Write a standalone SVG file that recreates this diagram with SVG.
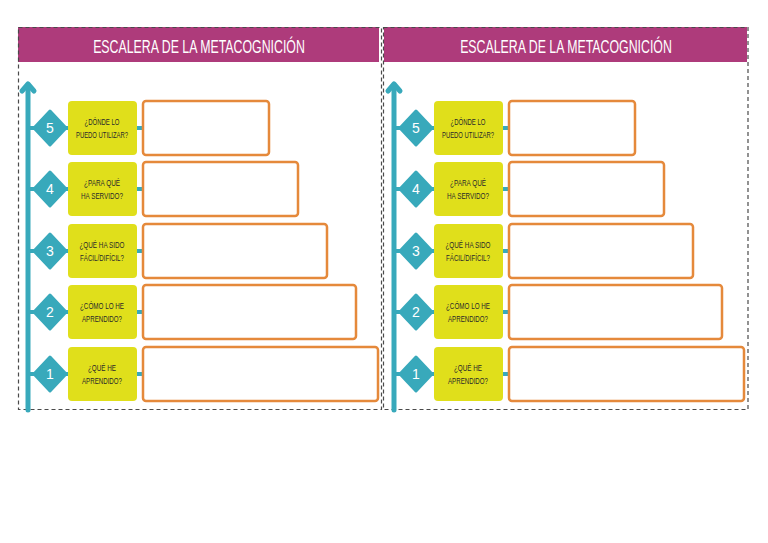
<svg xmlns="http://www.w3.org/2000/svg" width="768" height="543" viewBox="0 0 768 543">
<defs>
<style>
.bg{fill:#ffffff}
.frame{fill:none;stroke:#4a4a4a;stroke-width:1.2;stroke-dasharray:4 3}
.head{fill:#AE3B7B}
.title{font-family:"Liberation Sans",Arial,sans-serif;font-size:19px;fill:#ffffff;text-anchor:middle}
.axis{stroke:#38A9BB;stroke-width:5;fill:none;stroke-linecap:round;stroke-linejoin:round}
.conn{stroke:#38A9BB;stroke-width:4;fill:none}
.dia{fill:#38A9BB;stroke:#38A9BB;stroke-width:3;stroke-linejoin:round}
.num{font-family:"Liberation Sans",Arial,sans-serif;font-size:14px;fill:#ffffff;text-anchor:middle}
.q{fill:#E0DF1B}
.qt{font-family:"Liberation Sans",Arial,sans-serif;font-size:9.5px;fill:#2a2a2a;text-anchor:middle}
.ans{fill:#ffffff;stroke:#E5893B;stroke-width:2.5}
</style>
</defs>
<rect class="bg" x="0" y="0" width="768" height="543"/>

<g id="panel-left">
<rect class="head" x="18" y="27" width="361" height="35"/>
<text class="title" transform="translate(199,53) scale(0.65,1)" x="0" y="0">ESCALERA DE LA METACOGNICIÓN</text>
<rect class="frame" x="18.5" y="27.5" width="363" height="382"/>
</g>
<g id="panel-right">
<rect class="head" x="384" y="27" width="363" height="35"/>
<text class="title" transform="translate(566,53) scale(0.65,1)" x="0" y="0">ESCALERA DE LA METACOGNICIÓN</text>
<rect class="frame" x="383.5" y="27.5" width="364.5" height="382"/>
</g>

<g id="connectors">
<line class="axis" x1="28" y1="85" x2="28" y2="410"/>
<polyline class="axis" points="22,91 28,84 34,91"/>
<line class="conn" x1="28" y1="128" x2="68" y2="128"/>
<line class="conn" x1="28" y1="189" x2="68" y2="189"/>
<line class="conn" x1="28" y1="251" x2="68" y2="251"/>
<line class="conn" x1="28" y1="312" x2="68" y2="312"/>
<line class="conn" x1="28" y1="374" x2="68" y2="374"/>
<line class="conn" x1="137" y1="128" x2="143" y2="128"/>
<line class="conn" x1="137" y1="189" x2="143" y2="189"/>
<line class="conn" x1="137" y1="251" x2="143" y2="251"/>
<line class="conn" x1="137" y1="312" x2="143" y2="312"/>
<line class="conn" x1="137" y1="374" x2="143" y2="374"/>

<line class="axis" x1="394" y1="85" x2="394" y2="410"/>
<polyline class="axis" points="388,91 394,84 400,91"/>
<line class="conn" x1="394" y1="128" x2="434" y2="128"/>
<line class="conn" x1="394" y1="189" x2="434" y2="189"/>
<line class="conn" x1="394" y1="251" x2="434" y2="251"/>
<line class="conn" x1="394" y1="312" x2="434" y2="312"/>
<line class="conn" x1="394" y1="374" x2="434" y2="374"/>
<line class="conn" x1="503" y1="128" x2="509" y2="128"/>
<line class="conn" x1="503" y1="189" x2="509" y2="189"/>
<line class="conn" x1="503" y1="251" x2="509" y2="251"/>
<line class="conn" x1="503" y1="312" x2="509" y2="312"/>
<line class="conn" x1="503" y1="374" x2="509" y2="374"/>
</g>

<g id="L-step5">
<polygon class="dia" points="50,111 66,128 50,145 34,128"/>
<text class="num" x="50" y="133">5</text>
</g>
<g id="L-q5">
<rect class="q" x="68" y="101" width="69" height="54" rx="4"/>
<text class="qt" x="102" y="125" textLength="35" lengthAdjust="spacingAndGlyphs">¿DÓNDE LO</text>
<text class="qt" x="102" y="138" textLength="52" lengthAdjust="spacingAndGlyphs">PUEDO UTILIZAR?</text>
</g>
<g id="L-a5"><rect class="ans" x="143" y="101" width="126" height="54" rx="3"/></g>

<g id="L-step4">
<polygon class="dia" points="50,172 66,189 50,206 34,189"/>
<text class="num" x="50" y="194">4</text>
</g>
<g id="L-q4">
<rect class="q" x="68" y="162" width="69" height="54" rx="4"/>
<text class="qt" x="102" y="186" textLength="36" lengthAdjust="spacingAndGlyphs">¿PARA QUÉ</text>
<text class="qt" x="102" y="199" textLength="42" lengthAdjust="spacingAndGlyphs">HA SERVIDO?</text>
</g>
<g id="L-a4"><rect class="ans" x="143" y="162" width="155" height="54" rx="3"/></g>

<g id="L-step3">
<polygon class="dia" points="50,234 66,251 50,268 34,251"/>
<text class="num" x="50" y="256">3</text>
</g>
<g id="L-q3">
<rect class="q" x="68" y="224" width="69" height="54" rx="4"/>
<text class="qt" x="102" y="248" textLength="45" lengthAdjust="spacingAndGlyphs">¿QUÉ HA SIDO</text>
<text class="qt" x="102" y="261" textLength="44" lengthAdjust="spacingAndGlyphs">FÁCIL/DIFÍCIL?</text>
</g>
<g id="L-a3"><rect class="ans" x="143" y="224" width="184" height="54" rx="3"/></g>

<g id="L-step2">
<polygon class="dia" points="50,295 66,312 50,329 34,312"/>
<text class="num" x="50" y="317">2</text>
</g>
<g id="L-q2">
<rect class="q" x="68" y="285" width="69" height="54" rx="4"/>
<text class="qt" x="102" y="309" textLength="44" lengthAdjust="spacingAndGlyphs">¿CÓMO LO HE</text>
<text class="qt" x="102" y="322" textLength="40" lengthAdjust="spacingAndGlyphs">APRENDIDO?</text>
</g>
<g id="L-a2"><rect class="ans" x="143" y="285" width="213" height="54" rx="3"/></g>

<g id="L-step1">
<polygon class="dia" points="50,357 66,374 50,391 34,374"/>
<text class="num" x="50" y="379">1</text>
</g>
<g id="L-q1">
<rect class="q" x="68" y="347" width="69" height="54" rx="4"/>
<text class="qt" x="102" y="371" textLength="28" lengthAdjust="spacingAndGlyphs">¿QUÉ HE</text>
<text class="qt" x="102" y="384" textLength="40" lengthAdjust="spacingAndGlyphs">APRENDIDO?</text>
</g>
<g id="L-a1"><rect class="ans" x="143" y="347" width="235" height="54" rx="3"/></g>

<g id="R-step5">
<polygon class="dia" points="416,111 432,128 416,145 400,128"/>
<text class="num" x="416" y="133">5</text>
</g>
<g id="R-q5">
<rect class="q" x="434" y="101" width="69" height="54" rx="4"/>
<text class="qt" x="468" y="125" textLength="35" lengthAdjust="spacingAndGlyphs">¿DÓNDE LO</text>
<text class="qt" x="468" y="138" textLength="52" lengthAdjust="spacingAndGlyphs">PUEDO UTILIZAR?</text>
</g>
<g id="R-a5"><rect class="ans" x="509" y="101" width="126" height="54" rx="3"/></g>

<g id="R-step4">
<polygon class="dia" points="416,172 432,189 416,206 400,189"/>
<text class="num" x="416" y="194">4</text>
</g>
<g id="R-q4">
<rect class="q" x="434" y="162" width="69" height="54" rx="4"/>
<text class="qt" x="468" y="186" textLength="36" lengthAdjust="spacingAndGlyphs">¿PARA QUÉ</text>
<text class="qt" x="468" y="199" textLength="42" lengthAdjust="spacingAndGlyphs">HA SERVIDO?</text>
</g>
<g id="R-a4"><rect class="ans" x="509" y="162" width="155" height="54" rx="3"/></g>

<g id="R-step3">
<polygon class="dia" points="416,234 432,251 416,268 400,251"/>
<text class="num" x="416" y="256">3</text>
</g>
<g id="R-q3">
<rect class="q" x="434" y="224" width="69" height="54" rx="4"/>
<text class="qt" x="468" y="248" textLength="45" lengthAdjust="spacingAndGlyphs">¿QUÉ HA SIDO</text>
<text class="qt" x="468" y="261" textLength="44" lengthAdjust="spacingAndGlyphs">FÁCIL/DIFÍCIL?</text>
</g>
<g id="R-a3"><rect class="ans" x="509" y="224" width="184" height="54" rx="3"/></g>

<g id="R-step2">
<polygon class="dia" points="416,295 432,312 416,329 400,312"/>
<text class="num" x="416" y="317">2</text>
</g>
<g id="R-q2">
<rect class="q" x="434" y="285" width="69" height="54" rx="4"/>
<text class="qt" x="468" y="309" textLength="44" lengthAdjust="spacingAndGlyphs">¿CÓMO LO HE</text>
<text class="qt" x="468" y="322" textLength="40" lengthAdjust="spacingAndGlyphs">APRENDIDO?</text>
</g>
<g id="R-a2"><rect class="ans" x="509" y="285" width="213" height="54" rx="3"/></g>

<g id="R-step1">
<polygon class="dia" points="416,357 432,374 416,391 400,374"/>
<text class="num" x="416" y="379">1</text>
</g>
<g id="R-q1">
<rect class="q" x="434" y="347" width="69" height="54" rx="4"/>
<text class="qt" x="468" y="371" textLength="28" lengthAdjust="spacingAndGlyphs">¿QUÉ HE</text>
<text class="qt" x="468" y="384" textLength="40" lengthAdjust="spacingAndGlyphs">APRENDIDO?</text>
</g>
<g id="R-a1"><rect class="ans" x="509" y="347" width="235" height="54" rx="3"/></g>
</svg>
